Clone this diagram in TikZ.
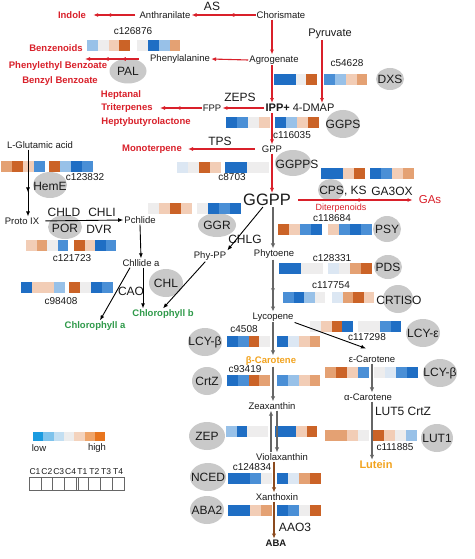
\documentclass[tikz,border=0pt]{standalone}
\usepackage{fontspec}
\setmainfont{Liberation Sans}
\usetikzlibrary{arrows.meta,decorations.markings,calc}
\definecolor{b3}{HTML}{1F6EC4}
\definecolor{b2}{HTML}{4A8FD6}
\definecolor{b1}{HTML}{98C1E8}
\definecolor{wb}{HTML}{DCE7F3}
\definecolor{w0}{HTML}{EEEDED}
\definecolor{o1}{HTML}{F2CDB6}
\definecolor{o2}{HTML}{E4A173}
\definecolor{o3}{HTML}{CB6327}
\definecolor{lg1}{HTML}{1A9BE0}
\definecolor{lg2}{HTML}{7EC3EC}
\definecolor{lg3}{HTML}{C3DFF2}
\definecolor{lg4}{HTML}{EDEDED}
\definecolor{lg5}{HTML}{F4D3BD}
\definecolor{lg6}{HTML}{EFA56A}
\definecolor{lg7}{HTML}{E8751E}
\definecolor{rd}{HTML}{D9202A}
\definecolor{gn}{HTML}{2F9A4A}
\definecolor{og}{HTML}{F2A31E}
\definecolor{gy}{HTML}{666666}
\definecolor{br}{HTML}{8B4A1E}
\definecolor{ellg}{HTML}{C9C9C9}
\definecolor{txt}{HTML}{1A1A1A}
\newcommand\hmap[5]{%
  \foreach \hc [count=\hi from 0] in {#5}{%
    \pgfmathsetmacro\hx{#1+\hi*#3+(\hi>3)*#4}%
    \fill[fill=\hc] (\hx,#2) rectangle ++(#3,11);%
  }}
\tikzset{
  lbl/.style={inner sep=1pt,text=txt,font=\fontsize{9.5}{10}\selectfont},
  cid/.style={inner sep=0.5pt,text=txt,font=\fontsize{10}{11}\selectfont},
  gene/.style={inner sep=0.5pt,text=txt,font=\fontsize{12}{13}\selectfont},
  prod/.style={inner sep=1pt,text=rd,font=\fontsize{9.5}{10}\selectfont\bfseries},
  grn/.style={inner sep=1pt,text=gn,font=\fontsize{9.5}{10}\selectfont\bfseries},
  org/.style={inner sep=1pt,text=og,font=\fontsize{9.5}{10}\selectfont\bfseries},
  midarr/.style={postaction={decorate,decoration={markings,mark=at position #1 with {\arrow{Latex[length=5pt,width=4pt]}}}}},
  rarr/.style={draw=rd,line width=1.1pt,-{Latex[length=5pt,width=4pt]}},
  karr/.style={draw=black,line width=0.9pt,-{Latex[length=5pt,width=4pt]}},
  garr/.style={draw=gy,line width=1.3pt,-{Latex[length=5pt,width=4.5pt]}},
  brarr/.style={draw=br,line width=1.2pt,-{Latex[length=5pt,width=4.5pt]}},
}
\begin{document}
\begin{tikzpicture}[x=1pt,y=-1pt]
\useasboundingbox (0,0) rectangle (474,559);
\fill[white] (0,0) rectangle (474,559);
% column coordinates
\coordinate (colR) at (272,0);
\coordinate (colG) at (273,0);
\coordinate (colP) at (322,0);
\coordinate (colL) at (28,0);
\coordinate (colCB) at (143,0);
\coordinate (colE) at (372,0);
\coordinate (colU) at (271,0);
\coordinate (colD) at (277,0);
\coordinate (colB) at (274,0);
% enzyme ellipses
\fill[ellg] (128,71) ellipse [x radius=18.5pt,y radius=12.5pt];
\fill[ellg] (390,79) ellipse [x radius=14pt,y radius=11pt];
\fill[ellg] (343,124) ellipse [x radius=17pt,y radius=14pt];
\fill[ellg] (293,163) ellipse [x radius=18pt,y radius=13pt];
\fill[ellg] (331,190) ellipse [x radius=13pt,y radius=11pt];
\fill[ellg] (387,229) ellipse [x radius=14pt,y radius=13pt];
\fill[ellg] (388,267) ellipse [x radius=14pt,y radius=12pt];
\fill[ellg] (398,299) ellipse [x radius=15pt,y radius=14pt];
\fill[ellg] (423,333) ellipse [x radius=17pt,y radius=14pt];
\fill[ellg] (205,342) ellipse [x radius=17pt,y radius=14pt];
\fill[ellg] (440,373) ellipse [x radius=17pt,y radius=14pt];
\fill[ellg] (207,381) ellipse [x radius=15pt,y radius=14pt];
\fill[ellg] (207,436) ellipse [x radius=18pt,y radius=14pt];
\fill[ellg] (437,438) ellipse [x radius=16pt,y radius=14pt];
\fill[ellg] (208,477) ellipse [x radius=18pt,y radius=14pt];
\fill[ellg] (207,510) ellipse [x radius=17pt,y radius=14pt];
\fill[ellg] (50,185) ellipse [x radius=17pt,y radius=13pt];
\fill[ellg] (65,227) ellipse [x radius=17pt,y radius=12pt];
\fill[ellg] (217,225) ellipse [x radius=19pt,y radius=12pt];
\fill[ellg] (166,283) ellipse [x radius=17pt,y radius=14pt];
% heatmaps
\hmap{87}{40}{10.8}{7}{b1,w0,o1,o3,w0,b3,b1,o2}
\hmap{274}{74}{10.8}{7}{b3,b3,w0,o3,b2,b1,o1,o2}
\hmap{226}{117}{11}{5}{b3,b2,w0,o1,b3,b1,o1,o3}
\hmap{177}{162}{11}{4}{wb,w0,o3,o1,b3,b3,w0,w0}
\hmap{321}{168}{11}{5}{b3,b3,o1,o3,b3,b2,o1,o2}
\hmap{278}{224}{11}{6}{o3,o1,b2,b3,o1,b2,b3,b2}
\hmap{279}{263}{11}{5}{b3,b3,w0,w0,wb,w0,o2,o3}
\hmap{283}{292}{10.5}{7}{b2,b3,b1,w0,wb,o2,o3,o1}
\hmap{310}{321}{10.8}{5}{w0,o1,o3,b3,w0,w0,b2,b3}
\hmap{227}{336}{10.8}{7}{b3,b2,o3,w0,b3,wb,o1,o2}
\hmap{227}{375}{10.8}{7}{b3,b2,o3,o2,b2,b1,o1,o2}
\hmap{325}{367}{11}{5}{o2,o3,o1,b2,w0,wb,b2,b3}
\hmap{226}{426}{10.5}{7}{b1,b3,w0,w0,b3,b3,o1,o3}
\hmap{325}{430}{11}{4}{o2,o2,o1,w0,o3,o1,w0,b1}
\hmap{228}{473}{11}{5}{b3,b3,b2,w0,b3,wb,o2,o3}
\hmap{228}{505}{11}{5}{b3,b3,o1,o2,b3,b2,w0,o3}
\hmap{1}{161}{11}{4}{o2,o3,o1,b2,o3,b1,b3,b2}
\hmap{26}{240}{10.5}{6}{o1,o2,w0,b2,o3,o1,b3,b2}
\hmap{21}{282}{11}{4}{b3,o1,o1,b1,o3,w0,b3,b2}
\hmap{148}{203}{11}{5}{w0,o1,o3,o1,w0,b3,b2,b3}
% gene labels
\node[gene] (as) at (212,6) {AS};
\node[gene] (pal) at (128,71) {PAL};
\node[gene] (dxs) at (390,79) {DXS};
\node[gene] (zeps) at (240,97) {ZEPS};
\node[gene] (ggps) at (343,124) {GGPS};
\node[gene] (tps) at (220,141) {TPS};
\node[gene] (ggpps) at (297,164) {GGPPS};
\node[gene] (cpsks) at (343,191) {CPS, KS};
\node[gene] (ga3ox) at (392,191) {GA3OX};
\node[gene] (psy) at (387,229) {PSY};
\node[gene] (chlg) at (245,239) {CHLG};
\node[gene] (pds) at (388,267) {PDS};
\node[gene] (crtiso) at (399,300) {CRTISO};
\node[gene] (lcye) at (423,333) {LCY-ε};
\node[gene] (lcybl) at (205,342) {LCY-β};
\node[gene] (lcybr) at (440,373) {LCY-β};
\node[gene] (crtzl) at (207,381) {CrtZ};
\node[gene] (lut5) at (403,411) {LUT5 CrtZ};
\node[gene] (zep) at (207,436) {ZEP};
\node[gene] (lut1) at (437,438) {LUT1};
\node[gene] (nced) at (208,477) {NCED};
\node[gene] (aba2) at (207,510) {ABA2};
\node[gene] (aao3) at (295,527) {AAO3};
\node[gene] (heme) at (50,186) {HemE};
\node[gene] (chld) at (64,212) {CHLD};
\node[gene] (chli) at (102,212) {CHLI};
\node[gene] (por) at (65,228) {POR};
\node[gene] (dvr) at (99,229) {DVR};
\node[gene] (ggr) at (217,225) {GGR};
\node[gene] (chl) at (166,283) {CHL};
\node[gene] (cao) at (131,291) {CAO};
% unigene ids
\node[cid] (i1) at (133,31) {c126876};
\node[cid] (i2) at (347,63) {c54628};
\node[cid] (i3) at (292,135) {c116035};
\node[cid] (i4) at (232,177) {c8703};
\node[cid] (i5) at (332,218) {c118684};
\node[cid] (i6) at (332,258) {c128331};
\node[cid] (i7) at (331,285) {c117754};
\node[cid] (i8) at (244,329) {c4508};
\node[cid] (i9) at (367,337) {c117298};
\node[cid] (i10) at (245,369) {c93419};
\node[cid] (i11) at (395,447) {c111885};
\node[cid] (i12) at (252,467) {c124834};
\node[cid] (i13) at (85,177) {c123832};
\node[cid] (i14) at (72,258) {c121723};
\node[cid] (i15) at (61,301) {c98408};
% metabolites
\node[lbl] (chor) at (281,15) {Chorismate};
\node[lbl] (anth) at (165,15) {Anthranilate};
\node[prod] (indole) at (72,15) {Indole};
\node[lbl,font=\fontsize{11}{12}\selectfont] (pyr) at (330,34) {Pyruvate};
\node[prod] (benz) at (56,48) {Benzenoids};
\node[prod] (phenb) at (58,66) {Phenylethyl Benzoate};
\node[prod] (benzb) at (60,81) {Benzyl Benzoate};
\node[lbl] (phe) at (180,59) {Phenylalanine};
\node[lbl] (agro) at (274,60) {Agrogenate};
\node[prod] (hept) at (121,95) {Heptanal};
\node[prod] (trit) at (127,108) {Triterpenes};
\node[prod] (heptb) at (146,122) {Heptybutyrolactone};
\node[lbl] (fpp) at (212,108) {FPP};
\node[lbl,font=\fontsize{11}{12}\selectfont] (ipp) at (300,108) {\textbf{IPP+} 4-DMAP};
\node[lbl] (gpp) at (272,149) {GPP};
\node[prod] (mono) at (152,149) {Monoterpene};
\node[lbl,font=\fontsize{16.5}{18}\selectfont] (ggpp) at (267,200) {GGPP};
\node[inner sep=1pt,text=rd,font=\fontsize{9}{10}\selectfont] (diter) at (341,208) {Diterpenoids};
\node[inner sep=1pt,text=rd,font=\fontsize{11.5}{12}\selectfont] (gas) at (430,200) {GAs};
\node[lbl] (phyt) at (274,254) {Phytoene};
\node[lbl] (lyco) at (273,317) {Lycopene};
\node[lbl] (ecar) at (372,359) {ε-Carotene};
\node[org] (bcar) at (271,361) {β-Carotene};
\node[lbl] (acar) at (368,397) {α-Carotene};
\node[lbl] (zea) at (272,406) {Zeaxanthin};
\node[lbl] (vio) at (282,457) {Violaxanthin};
\node[org,font=\fontsize{11}{12}\selectfont\bfseries] (lut) at (376,465) {Lutein};
\node[lbl] (xan) at (277,497) {Xanthoxin};
\node[lbl,font=\fontsize{9.5}{10}\selectfont\bfseries] (aba) at (276,543) {ABA};
\node[lbl] (glu) at (40,145) {L-Glutamic acid};
\node[lbl] (proto) at (22,221) {Proto IX};
\node[lbl] (pchl) at (140,220) {Pchlide};
\node[lbl] (chlide) at (141,263) {Chllide a};
\node[lbl] (phypp) at (210,256) {Phy-PP};
\node[grn] (chla) at (95,326) {Chlorophyll a};
\node[grn] (chlb) at (163,314) {Chlorophyll b};
\coordinate (benzend) at (85,59);
\coordinate (heptend) at (160,108);
% red arrows
\draw[rarr,midarr=0.41] (chor.west) -- (anth.east);
\draw[rarr,midarr=0.63,shorten <=3pt,shorten >=6pt] (anth.west) -- (indole.east);
\draw[rarr,midarr=0.44,midarr=0.71,shorten <=10pt] (phe.west) -- (benzend);
\draw[rarr] (chor.south -| colR) -- (agro.north -| colR);
\draw[rarr] (agro.west) -- (phe.east);
\draw[rarr] (pyr.south -| colP) -- (ipp.north -| colP);
\draw[rarr] (agro.south -| colR) -- (ipp.north -| colR);
\draw[rarr] (ipp.west) -- (fpp.east);
\draw[rarr,midarr=0.63] (fpp.west) -- (heptend);
\draw[rarr] (ipp.south -| colR) -- (gpp.north -| colR);
\draw[rarr,shorten <=6pt,shorten >=5pt] (gpp.west) -- (mono.east);
\draw[rarr] (gpp.south -| colR) -- (ggpp.north -| colR);
\draw[rarr,midarr=0.57,shorten <=6pt,shorten >=5pt] (ggpp.east) -- (gas.west);
% black arrows
\draw[karr] (ggpp.240) -- (phypp.north east);
\draw[karr] (phypp.230) -- (chlb.north);
\draw[karr,midarr=0.64] (glu.south -| colL) -- (proto.north -| colL);
\draw[karr,shorten <=5pt] (proto.east) -- (pchl.west);
\draw[karr] (pchl.south) -- (chlide.north);
\draw[karr] ($(chlide.south)+(-11,0)$) -- ($(chla.north)+(5,0)$);
\draw[karr] (chlide.south -| colCB) -- (chlb.north -| colCB);
\draw[karr] (lyco.south east) -- ($(ecar.north)+(-6,-6)$);
% grey arrows
\draw[garr] (ggpp.south -| colG) -- (phyt.north -| colG);
\draw[garr,midarr=0.65] (phyt.south -| colG) -- (lyco.north -| colG);
\draw[garr] (lyco.south -| colG) -- (bcar.north -| colG);
\draw[garr] (bcar.south -| colG) -- (zea.north -| colG);
\draw[garr] (vio.north -| colU) -- (zea.south -| colU);
\draw[garr] (zea.south -| colD) -- (vio.north -| colD);
\draw[garr] (ecar.south -| colE) -- (acar.north -| colE);
\draw[garr] (acar.south -| colE) -- (lut.north -| colE);
% brown arrows
\draw[brarr] (vio.south -| colB) -- (xan.north -| colB);
\draw[brarr] (xan.south -| colB) -- (aba.north -| colB);
% legend
\foreach \lc [count=\li from 0] in {lg1,lg2,lg3,lg4,lg5,lg6,lg7}{%
  \pgfmathsetmacro\lx{33+\li*10.3}%
  \fill[fill=\lc] (\lx,432) rectangle ++(10.3,9);}
\node[lbl] (low) at (39,448) {low};
\node[lbl] (high) at (97,448) {high};
\foreach \cl [count=\ci from 0] in {C1,C2,C3,C4,T1,T2,T3,T4}{%
  \pgfmathsetmacro\cx{29+\ci*11.875+5.94}%
  \node[inner sep=0pt,text=txt,font=\fontsize{8.5}{9}\selectfont] (leg\ci) at (\cx,472) {\cl};
  \draw[gy,line width=0.6pt] (\cx-5.94,477) rectangle ++(11.875,13);}
\draw[gy,line width=0.6pt] (78.5,477) -- (78.5,490);
\end{tikzpicture}
\end{document}
